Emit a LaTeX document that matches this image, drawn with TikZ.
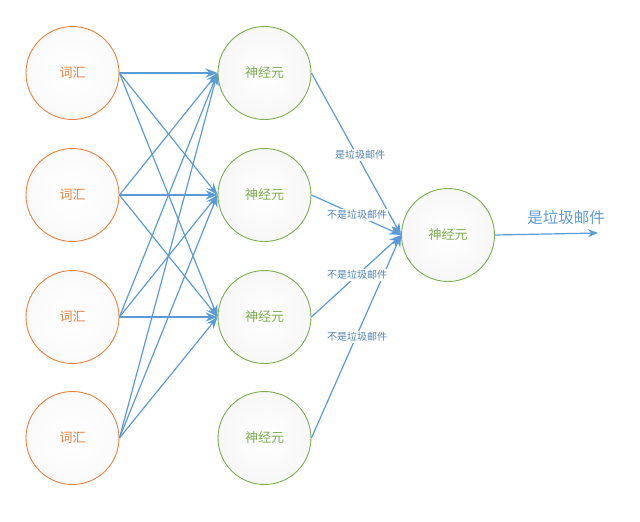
\documentclass[tikz,border=0pt]{standalone}
\usepackage{fontspec}
\newfontfamily\cjk{Noto Sans CJK SC}
\usetikzlibrary{arrows.meta}
\definecolor{lineblue}{HTML}{5B9BD5}
\definecolor{orng}{HTML}{E8813F}
\definecolor{grn}{HTML}{7AAE4E}
\begin{document}
\begin{tikzpicture}[x=1pt,y=-1pt,
  word/.style={circle,draw=orng,line width=0.9pt,inner color=white,outer color=black!2,minimum size=93pt,inner sep=0pt,text=orng,font=\cjk\fontsize{13}{15}\selectfont},
  neuron/.style={circle,draw=grn,line width=0.9pt,inner color=white,outer color=black!3,minimum size=93pt,inner sep=0pt,text=grn,font=\cjk\fontsize{13}{15}\selectfont},
  link/.style={draw=lineblue,line width=1.2pt,-{Stealth[length=12pt,width=9pt]}},
  lbl/.style={text=lineblue!85!black,font=\cjk\fontsize{10}{12}\selectfont,fill=white,inner sep=1pt},
]
\useasboundingbox (0,0) rectangle (640,522);
\foreach \i/\y in {1/73,2/195,3/317,4/438}{
  \node[word] (w\i) at (72.5,\y) {词汇};
  \node[neuron] (n\i) at (264.5,\y) {神经元};
}
\node[neuron] (out) at (448,235) {神经元};
\coordinate (end) at (598,233);
\foreach \i in {1,2,3,4}{
  \foreach \j in {1,2,3}{
    \draw[link] (w\i.east) -- (n\j.west);
  }
}
\foreach \i in {1,2,3,4}{
  \draw[link] (n\i.east) -- (out.west);
}
\node[lbl] at (360,155) {是垃圾邮件};
\node[lbl] at (357,215) {不是垃圾邮件};
\node[lbl] at (357,275) {不是垃圾邮件};
\node[lbl] at (357,337) {不是垃圾邮件};
\draw[draw=lineblue,line width=1.2pt,-{Stealth[length=10pt,width=8pt]}] (out.east) -- (end);
\node[text=lineblue,font=\cjk\fontsize{15.5}{18}\selectfont] at (566,218) {是垃圾邮件};
\end{tikzpicture}
\end{document}
